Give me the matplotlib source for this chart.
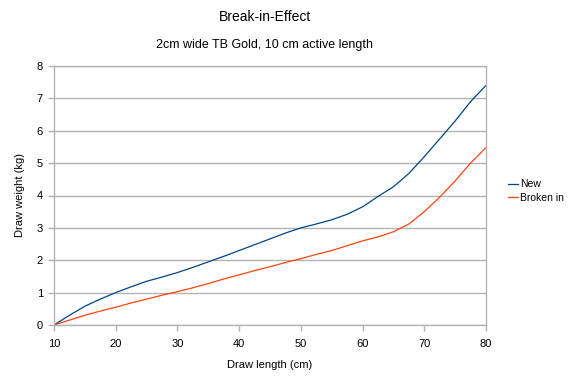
import matplotlib
matplotlib.use("Agg")
import matplotlib.pyplot as plt

draw_length = [10, 12.5, 15, 17.5, 20, 22.5, 25, 27.5, 30, 32.5, 35, 37.5, 40, 42.5, 45,
               47.5, 50, 52.5, 55, 57.5, 60, 62.5, 65, 67.5, 70, 72.5, 75, 77.5, 80]
new_weight = [0, 0.3, 0.58, 0.8, 1.0, 1.18, 1.35, 1.48, 1.62, 1.78, 1.95, 2.12, 2.3, 2.48, 2.66,
              2.84, 3.0, 3.12, 3.25, 3.42, 3.65, 3.97, 4.27, 4.68, 5.2, 5.75, 6.3, 6.9, 7.4]
broken_weight = [0, 0.15, 0.3, 0.43, 0.55, 0.68, 0.8, 0.92, 1.03, 1.15, 1.28, 1.42, 1.55, 1.68, 1.8,
                 1.93, 2.05, 2.18, 2.3, 2.45, 2.6, 2.72, 2.88, 3.12, 3.5, 3.95, 4.45, 5.0, 5.48]
x_ticks = [10, 20, 30, 40, 50, 60, 70, 80]
y_ticks = [0, 1, 2, 3, 4, 5, 6, 7, 8]

plt.rcParams['font.family'] = ['Liberation Sans', 'DejaVu Sans']

fig = plt.figure(figsize=(5.74, 3.85), dpi=100)
ax = fig.add_axes([54/574, 1-325/385, (486-54)/574, (325-66)/385])

ax.plot(draw_length, new_weight, color='#004586', lw=0.9, label='New')
ax.plot(draw_length, broken_weight, color='#ff420e', lw=0.9, label='Broken in')

ax.set_xlim(10, 80)
ax.set_ylim(0, 8)
ax.set_xticks(x_ticks)
ax.set_yticks(y_ticks)
ax.grid(axis='y', color='#b3b3b3', lw=1.0)
ax.set_axisbelow(True)
for s in ax.spines.values():
    s.set_color('#b3b3b3')
    s.set_linewidth(1.0)
ax.tick_params(axis='both', colors='#b3b3b3', labelcolor='black', labelsize=8, length=4, width=1)
ax.tick_params(axis='x', pad=6)
ax.tick_params(axis='y', pad=4)

ax.set_xlabel('Draw length (cm)', fontsize=8)
ax.xaxis.set_label_coords(0.5, -(365-325)/259, transform=ax.transAxes)
ax.set_ylabel('Draw weight (kg)', fontsize=8)
ax.yaxis.set_label_coords(-(54-20)/432, 0.5, transform=ax.transAxes)
ax.xaxis.label.set_va('center')
ax.yaxis.label.set_va('center')

fig.text(265/574, 1-17/385, 'Break-in-Effect', ha='center', va='center', fontsize=10)
fig.text(265/574, 1-45/385, '2cm wide TB Gold, 10 cm active length', ha='center', va='center', fontsize=9)

ax.legend(loc='center left', bbox_to_anchor=((508-54)/432, (325-191)/259), frameon=False, fontsize=7.5,
          handlelength=1.0, handletextpad=0.15, labelspacing=0.3, borderaxespad=0, borderpad=0)

fig.savefig('out.png', dpi=100)
